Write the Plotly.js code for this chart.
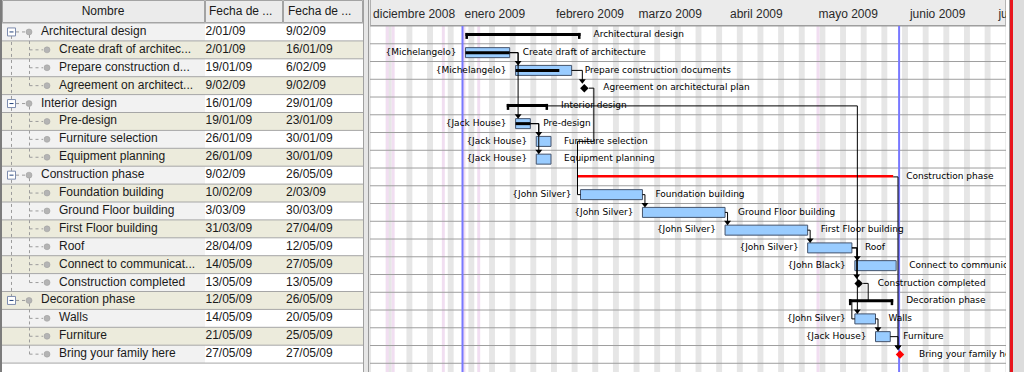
<!DOCTYPE html>
<html><head><meta charset="utf-8">
<script src="https://cdn.plot.ly/plotly-3.0.1.min.js"></script>
<style>html,body{margin:0;padding:0;background:#fff;overflow:hidden}#chart{width:1024px;height:372px}</style>
</head><body><div id="chart"></div>
<script>
// ---------------- data ----------------
const taskNames = ["Architectural design","Create draft of architecture","Prepare construction documents","Agreement on architectural plan","Interior design","Pre-design","Furniture selection","Equipment planning","Construction phase","Foundation building","Ground Floor building","First Floor building","Roof","Connect to communications","Construction completed","Decoration phase","Walls","Furniture","Bring your family here"];
const tableNames = ["Architectural design","Create draft of architec...","Prepare construction d...","Agreement on architect...","Interior design","Pre-design","Furniture selection","Equipment planning","Construction phase","Foundation building","Ground Floor building","First Floor building","Roof","Connect to communicat...","Construction completed","Decoration phase","Walls","Furniture","Bring your family here"];
const levels = [0,1,1,1,0,1,1,1,0,1,1,1,1,1,1,0,1,1,1];
const startDates = ["2/01/09","2/01/09","19/01/09","9/02/09","16/01/09","19/01/09","26/01/09","26/01/09","9/02/09","10/02/09","3/03/09","31/03/09","28/04/09","14/05/09","13/05/09","12/05/09","14/05/09","21/05/09","27/05/09"];
const endDates = ["9/02/09","16/01/09","6/02/09","9/02/09","29/01/09","23/01/09","30/01/09","30/01/09","26/05/09","2/03/09","30/03/09","27/04/09","12/05/09","27/05/09","13/05/09","26/05/09","20/05/09","25/05/09","27/05/09"];
const resources = ["","Michelangelo","Michelangelo","","","Jack House","Jack House","Jack House","","John Silver","John Silver","John Silver","John Silver","John Black","","","John Silver","Jack House",""];
const progress = [0,100,78,0,0,100,0,0,0,0,0,0,0,0,0,0,0,0,0];
const critical = [false,false,false,false,false,false,false,false,true,false,false,false,false,false,false,false,false,false,true];
const links = [[1,2],[1,5],[2,3],[3,9],[4,16],[5,6],[5,7],[9,10],[10,11],[11,12],[12,13],[12,14],[14,16],[8,18],[16,17],[17,18]];
const monthStarts = ["1/12/08","1/01/09","1/02/09","1/03/09","1/04/09","1/05/09","1/06/09","1/07/09"];
const monthLabels = ["diciembre 2008","enero 2009","febrero 2009","marzo 2009","abril 2009","mayo 2009","junio 2009","julio 2009"];
const holidays = ["6/12/08","8/12/08","25/12/08","1/01/09","6/01/09","1/05/09"];
const markerLines = ["1/01/09","29/05/09"];
const headerLabels = ["Nombre","Fecha de ...","Fecha de ..."];

// ---------------- geometry / calibration ----------------
const W=1024,H=372,DAY=86400000,ORIGIN=Date.UTC(2009,0,1);
const PX0=462.5, PXD=2.95;            // 1 Jan 2009 at px 462.5, 2.95 px per day
const ROW_PX=17.75, ROW0_PX=34.9;     // gantt rows
const T_TOP=23, T_ROW=17.9;           // table rows
const CH_L=370, CH_R=1006;
function dmy(s){const p=s.split('/').map(Number);return (Date.UTC(2000+p[2],p[1]-1,p[0])-ORIGIN)/DAY;}
function ds(d){return new Date(ORIGIN+d*DAY).toISOString().replace('T',' ').replace('Z','');}
const px2d=p=>p/PXD, py2r=p=>p/ROW_PX;
const n=taskNames.length;
const S=startDates.map(dmy), E=endDates.map(d=>dmy(d)+1);
const isSummary=levels.map((l,i)=>i<n-1&&levels[i+1]>l);
const isMile=startDates.map((s,i)=>s===endDates[i]&&!isSummary[i]);
const MS_OFF=2.3, MS_HALF=px2d(4.5);
const leftX=i=>isMile[i]?S[i]+MS_OFF-MS_HALF:S[i];
const rightX=i=>isMile[i]?S[i]+MS_OFF+MS_HALF:E[i];
const topY=i=>isMile[i]?i-py2r(4.5):(isSummary[i]?i-py2r(2):i-py2r(5));
const xMin=(CH_L-PX0)/PXD, xMax=(CH_R-PX0)/PXD;
const yBot=(H-ROW0_PX)/ROW_PX, yTop=-ROW0_PX/ROW_PX;
const tRowC=i=>T_TOP+T_ROW*(i+0.5);

const shapes=[];
function pRect(x0,y0,x1,y1,fill){shapes.push({type:'rect',xref:'paper',yref:'paper',x0:x0/W,x1:x1/W,y0:1-y1/H,y1:1-y0/H,fillcolor:fill,line:{width:0},layer:'below'});}
function tRect(x0,y0,x1,y1,fill,lc){shapes.push({type:'rect',xref:'x',yref:'y',x0,x1,y0,y1,fillcolor:fill,line:lc?{width:1,color:lc}:{width:0},layer:'below'});}
function tLine(x0,y0,x1,y1,c,w,dash){shapes.push({type:'line',xref:'x',yref:'y',x0,x1,y0,y1,line:{color:c,width:w||1,dash:dash||'solid'},layer:'below'});}
function gRect(x0,y0,x1,y1,fill,lc){shapes.push({type:'rect',xref:'x2',yref:'y2',x0:ds(x0),x1:ds(x1),y0,y1,fillcolor:fill,line:lc?{width:1,color:lc}:{width:0},layer:'below'});}

// ---------- frame pieces ----------
pRect(0,0,CH_L,H,'#ffffff');
pRect(CH_L,0,CH_R,25,'#ebebeb');
pRect(CH_L,25,CH_R,26,'#9e9e9e');
pRect(CH_L,0,CH_L+1,26,'#b0b0b0');
pRect(CH_R-1,0,CH_R,26,'#b4b4b4');
pRect(1009,0,1010,H,'#9a9a9a');
pRect(1010,0,1013,H,'#e8141c');
pRect(1013,0,W,H,'#dcdcdc');

// ---------- table ----------
tRect(0,0,2,H,'#7c7c7c');
const colX=[2,205,283,363];
for(let c=0;c<3;c++) tRect(colX[c]+0.5,0.5,colX[c+1]-0.5,T_TOP-0.5,'#ebebeb','#a3a3a3');
for(let i=0;i<n;i++){
  const y0=T_TOP+T_ROW*i, y1=y0+T_ROW;
  if(i%2===1) tRect(2,y0,363,y1,'#ecebdc');
  else { tRect(2,y0,205,y1,'#f2f2f2'); tRect(205,y0,363,y1,'#ffffff'); }
}
for(let i=0;i<=n;i++){const y=T_TOP+T_ROW*i; tLine(2,y,363,y,'#a6a6a6',1);}
tRect(363,0,370,H,'#e6e6e6');
tLine(363.5,0,363.5,H,'#a0a0a0',1);
tLine(368.5,0,368.5,H,'#9a9a9a',1);
// tree lines
const sumRows=[];for(let i=0;i<n;i++) if(isSummary[i]) sumRows.push(i);
tLine(11.5,tRowC(sumRows[0])+4,11.5,tRowC(sumRows[sumRows.length-1])-4,'#9c9c9c',1,'dot');
sumRows.forEach(r=>{
  let last=r; while(last+1<n&&levels[last+1]>levels[r]) last++;
  tLine(29.5,tRowC(r)+3,29.5,tRowC(last),'#9c9c9c',1,'dot');
  tLine(16,tRowC(r),25,tRowC(r),'#9c9c9c',1,'dot');
  for(let k=r+1;k<=last;k++) tLine(29.5,tRowC(k),43,tRowC(k),'#9c9c9c',1,'dot');
});
sumRows.forEach(r=>{
  const c=tRowC(r);
  tRect(7.5,c-4,15.5,c+4,'#ffffff','#7d8cae');
  tLine(9.5,c,13.5,c,'#23437c',1);
});

// ---------- gantt background ----------
for(let d=Math.floor(xMin)-2; d<xMax+2; d++){
  if(new Date(ORIGIN+d*DAY).getUTCDay()===6) gRect(d,-0.5,d+2,yBot,'#e6e6e6');
}
holidays.forEach(h=>{const d=dmy(h); gRect(d,-0.5,d+1,yBot,'#f1def1');});
for(let k=0;k<=n;k++){shapes.push({type:'line',xref:'x2',yref:'y2',x0:ds(xMin),x1:ds(xMax),y0:k-0.5,y1:k-0.5,line:{color:'#9e9e9e',width:1},layer:'below'});}
markerLines.forEach(m=>{const d=dmy(m);shapes.push({type:'line',xref:'x2',yref:'y2',x0:ds(d),x1:ds(d),y0:-0.5,y1:yBot,line:{color:'#7878ff',width:2},layer:'below'});});

// ---------- bars ----------
for(let i=0;i<n;i++){
  if(isMile[i]) continue;
  if(isSummary[i]){
    if(critical[i]){ gRect(S[i],i-py2r(2),E[i],i+py2r(0.5),'#ff0000'); }
    else {
      gRect(S[i],i-py2r(2),E[i],i+py2r(1),'#000000');
      gRect(S[i],i-py2r(2),S[i]+px2d(2.5),i+py2r(4),'#000000');
      gRect(E[i]-px2d(2.5),i-py2r(2),E[i],i+py2r(4),'#000000');
    }
  } else {
    gRect(S[i],i-py2r(5),E[i],i+py2r(5),'#99ccff','#44536c');
    if(progress[i]>0) gRect(S[i],i-py2r(1.5),S[i]+(E[i]-S[i])*progress[i]/100,i+py2r(1.5),'#000000');
  }
}

// ---------- links ----------
const lx=[],ly=[],ax=[],ay=[];
links.forEach(([p,s])=>{
  const x0=rightX(p), xs=leftX(s)+px2d(2.5);
  if(xs>=x0+px2d(1)){
    lx.push(ds(x0),ds(xs),ds(xs),null); ly.push(p,p,topY(s)-py2r(2),null);
    ax.push(ds(xs)); ay.push(topY(s)-py2r(3));
  } else {
    const xr=x0+px2d(5), xl=leftX(s)-px2d(3), ym=(p+s)/2;
    lx.push(ds(x0),ds(xr),ds(xr),ds(xl),ds(xl),ds(leftX(s)),null);
    ly.push(p,p,ym,ym,s,s,null);
  }
});

const gFont={family:'DejaVu Sans',size:9,color:'#000000'};
const tFont={family:'Liberation Sans',size:12,color:'#1a1a1a'};
const data=[];
// table texts
data.push({type:'scatter',mode:'text',xaxis:'x',yaxis:'y',x:[103],y:[12],text:[headerLabels[0]],textposition:'middle center',textfont:tFont,hoverinfo:'skip'});
data.push({type:'scatter',mode:'text',xaxis:'x',yaxis:'y',x:[209,288],y:[12,12],text:[headerLabels[1],headerLabels[2]],textposition:'middle right',textfont:tFont,hoverinfo:'skip'});
data.push({type:'scatter',mode:'text',xaxis:'x',yaxis:'y',x:levels.map(l=>l===0?41:59),y:taskNames.map((_,i)=>tRowC(i)),text:tableNames,textposition:'middle right',textfont:tFont,hoverinfo:'skip'});
data.push({type:'scatter',mode:'text',xaxis:'x',yaxis:'y',x:startDates.map(()=>205.5),y:startDates.map((_,i)=>tRowC(i)),text:startDates,textposition:'middle right',textfont:tFont,hoverinfo:'skip'});
data.push({type:'scatter',mode:'text',xaxis:'x',yaxis:'y',x:endDates.map(()=>286),y:endDates.map((_,i)=>tRowC(i)),text:endDates,textposition:'middle right',textfont:tFont,hoverinfo:'skip'});
data.push({type:'scatter',mode:'markers',xaxis:'x',yaxis:'y',x:levels.map(l=>l===0?29:47),y:taskNames.map((_,i)=>tRowC(i)),marker:{symbol:'circle',size:6,color:'#b4b4b4',line:{color:'#9a9a9a',width:0.5}},hoverinfo:'skip'});
// gantt traces
data.push({type:'scatter',mode:'lines',xaxis:'x2',yaxis:'y2',x:lx,y:ly,line:{color:'#000000',width:1},connectgaps:false,hoverinfo:'skip'});
data.push({type:'scatter',mode:'markers',xaxis:'x2',yaxis:'y2',x:ax,y:ay,marker:{symbol:'triangle-down',size:6,color:'#000000'},hoverinfo:'skip'});
const mi=[];for(let i=0;i<n;i++) if(isMile[i]) mi.push(i);
data.push({type:'scatter',mode:'markers',xaxis:'x2',yaxis:'y2',x:mi.map(i=>ds(S[i]+MS_OFF)),y:mi,marker:{symbol:'diamond',size:6.5,color:mi.map(i=>critical[i]?'#ff0000':'#000000')},hoverinfo:'skip'});
data.push({type:'scatter',mode:'text',xaxis:'x2',yaxis:'y2',x:taskNames.map((_,i)=>ds(rightX(i)+px2d(isMile[i]?14.5:13))),y:taskNames.map((_,i)=>i),text:taskNames,textposition:'middle right',textfont:gFont,cliponaxis:true,hoverinfo:'skip'});
const ri=[];for(let i=0;i<n;i++) if(resources[i]) ri.push(i);
data.push({type:'scatter',mode:'text',xaxis:'x2',yaxis:'y2',x:ri.map(i=>ds(leftX(i)-px2d(9))),y:ri,text:ri.map(i=>'{'+resources[i]+'}'),textposition:'middle left',textfont:gFont,cliponaxis:true,hoverinfo:'skip'});
data.push({type:'scatter',mode:'text',xaxis:'x2',yaxis:'y2',x:monthStarts.map(m=>ds(dmy(m)+px2d(2))),y:monthStarts.map(()=>py2r(15)+yTop),text:monthLabels,textposition:'middle right',textfont:{family:'Liberation Sans',size:12,color:'#2a2a2a'},cliponaxis:true,hoverinfo:'skip'});

const layout={width:W,height:H,margin:{l:0,r:0,t:0,b:0,pad:0},paper_bgcolor:'#ffffff',plot_bgcolor:'rgba(0,0,0,0)',showlegend:false,hovermode:false,
  xaxis:{domain:[0,CH_L/W],range:[0,CH_L],visible:false,fixedrange:true},
  yaxis:{domain:[0,1],range:[H,0],visible:false,fixedrange:true},
  xaxis2:{domain:[CH_L/W,CH_R/W],type:'date',range:[ds(xMin),ds(xMax)],visible:false,anchor:'y2',fixedrange:true},
  yaxis2:{domain:[0,1],range:[yBot,yTop],visible:false,anchor:'x2',fixedrange:true},
  shapes:shapes};
Plotly.newPlot('chart',data,layout,{staticPlot:true,displayModeBar:false});
</script></body></html>
